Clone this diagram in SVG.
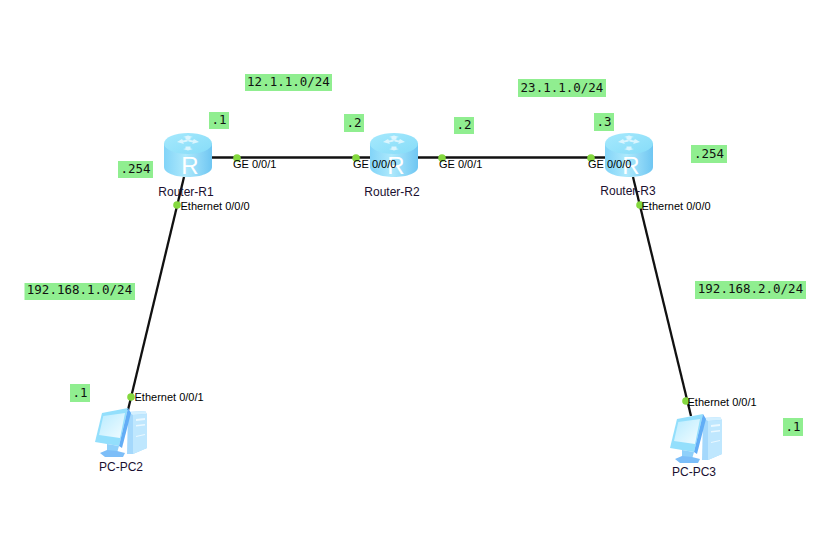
<svg xmlns="http://www.w3.org/2000/svg" width="826" height="547" viewBox="0 0 826 547">
<style>
.lnk{stroke:#111;stroke-width:2.300;fill:none}
.dot{fill:#84d83f}
.t{font-family:"Liberation Sans",Arial,sans-serif;font-size:11px;fill:#000}
.nm{font-family:"Liberation Sans",Arial,sans-serif;font-size:12px;fill:#1a1030;text-anchor:middle}
.lb{fill:#90ee90}
.m{font-family:"DejaVu Sans Mono",monospace;font-size:12.5px;fill:#111;text-anchor:middle}
.rl{font-family:"Liberation Sans",Arial,sans-serif;font-size:24px;fill:#fff;text-anchor:middle}
</style>
<defs>
<linearGradient id="rb" x1="0" x2="1" y1="0" y2="0"><stop offset="0" stop-color="#82d4f8"/><stop offset=".45" stop-color="#aee9fc"/><stop offset="1" stop-color="#6fc6f2"/></linearGradient>
<linearGradient id="rt" x1="0" x2="1" y1="0" y2="1"><stop offset="0" stop-color="#a6e9fd"/><stop offset="1" stop-color="#86dcf8"/></linearGradient>
<linearGradient id="scr" x1="0" x2="1" y1="0" y2="1"><stop offset="0" stop-color="#b8ebff"/><stop offset="1" stop-color="#f2fcff"/></linearGradient>
<g id="router">
<path d="M0 10.5V34C0 40 11 44 24 44S48 40 48 34V10.5Z" fill="url(#rb)"/>
<ellipse cx="24" cy="10.500" rx="24" ry="10.500" fill="url(#rt)"/>
<path d="M13 9l5-3 1 1.500 5-1-.5 2-4.500 1 1 1.500zM35 9l-5-3-1 1.500-5-1 .5 2 4.500 1-1 1.500zM19 4l5-1.500 5 1.500-2.500.5 0 2-5 0 0-2zM19 16l5 1.500 5-1.500-2.500-.5 0-2-5 0 0 2z" fill="#e6f8fe" opacity=".85"/>
<text class="rl" x="26" y="41">R</text>
</g>
<g id="pc">
<path d="M33 4L50 3L52 6V40L38 46H32Z" fill="#a4d8fc"/>
<path d="M33 4L50 3L52 6L38 7Z" fill="#d4f0ff"/>
<path d="M38 7L52 6V40L38 46Z" fill="#bfe7fe"/>
<path d="M41 11l9-1v2l-9 1zM41 17l9-1v1.500l-9 1zM41 28l9-2v1l-9 2z" fill="#eaf8ff"/>
<path d="M7 5L33 0L24 38L0 34Z" fill="#93dffc"/>
<path d="M8.300 8L30 5L25 30L4 27Z" fill="url(#scr)"/>
<path d="M33 0L36 5L27 40L24 38Z" fill="#62adf6"/>
<path d="M12 36L24 38L22 45L12 44Z" fill="#8fd0fa"/>
<path d="M5 45L12 42L22 43L30 45L28 49H10Z" fill="#7dbef8"/>
</g>
</defs>
<rect width="826" height="547" fill="#fff"/>
<g id="connectors">
<line class="lnk" x1="212" y1="157.500" x2="370" y2="157.500"/>
<line class="lnk" x1="418" y1="157.500" x2="605" y2="157.500"/>
<line class="lnk" x1="184" y1="177" x2="128" y2="410"/>
<line class="lnk" x1="633" y1="177" x2="691" y2="416"/>
</g>
<g id="router-r1"><use href="#router" x="164" y="133"/><text class="nm" x="186" y="196">Router-R1</text></g>
<g id="router-r2"><use href="#router" x="370" y="133"/><text class="nm" x="392" y="196">Router-R2</text></g>
<g id="router-r3"><use href="#router" x="605" y="133"/><text class="nm" x="628" y="195">Router-R3</text></g>
<g id="pc-pc2"><use href="#pc" x="95" y="408"/><text class="nm" x="121" y="471">PC-PC2</text></g>
<g id="pc-pc3"><use href="#pc" x="670" y="414"/><text class="nm" x="694" y="476">PC-PC3</text></g>
<g id="ports">
<circle class="dot" cx="237" cy="158" r="3.800"/><text class="t" x="233" y="168">GE 0/0/1</text>
<circle class="dot" cx="356" cy="158" r="3.800"/><text class="t" x="353" y="168">GE 0/0/0</text>
<circle class="dot" cx="442" cy="158" r="3.800"/><text class="t" x="439" y="168">GE 0/0/1</text>
<circle class="dot" cx="591" cy="158" r="3.800"/><text class="t" x="588" y="168">GE 0/0/0</text>
<circle class="dot" cx="177" cy="205" r="3.800"/><text class="t" x="180.500" y="210">Ethernet 0/0/0</text>
<circle class="dot" cx="640" cy="205" r="3.800"/><text class="t" x="641.500" y="210">Ethernet 0/0/0</text>
<circle class="dot" cx="131" cy="397" r="3.800"/><text class="t" x="134.500" y="401">Ethernet 0/0/1</text>
<circle class="dot" cx="686" cy="401" r="3.800"/><text class="t" x="687.500" y="406">Ethernet 0/0/1</text>
</g>
<g id="labels">
<rect class="lb" x="245" y="74" width="87" height="17"/><text class="m" x="288.500" y="86">12.1.1.0/24</text>
<rect class="lb" x="518" y="79" width="88" height="18"/><text class="m" x="562" y="92">23.1.1.0/24</text>
<rect class="lb" x="209" y="112" width="20" height="17"/><text class="m" x="219" y="124">.1</text>
<rect class="lb" x="344" y="114" width="20" height="18"/><text class="m" x="354" y="127">.2</text>
<rect class="lb" x="454" y="117" width="20" height="17"/><text class="m" x="464" y="129">.2</text>
<rect class="lb" x="594" y="113" width="20" height="18"/><text class="m" x="604" y="126">.3</text>
<rect class="lb" x="118" y="161" width="35" height="17"/><text class="m" x="135.500" y="173">.254</text>
<rect class="lb" x="691" y="145" width="36" height="18"/><text class="m" x="709" y="158">.254</text>
<rect class="lb" x="24.500" y="283" width="110.500" height="17"/><text class="m" x="79.500" y="294">192.168.1.0/24</text>
<rect class="lb" x="695" y="281" width="111" height="18"/><text class="m" x="750.500" y="293">192.168.2.0/24</text>
<rect class="lb" x="70" y="384" width="20" height="18"/><text class="m" x="80" y="397">.1</text>
<rect class="lb" x="783" y="418" width="20" height="18"/><text class="m" x="793" y="431">.1</text>
</g>
</svg>
